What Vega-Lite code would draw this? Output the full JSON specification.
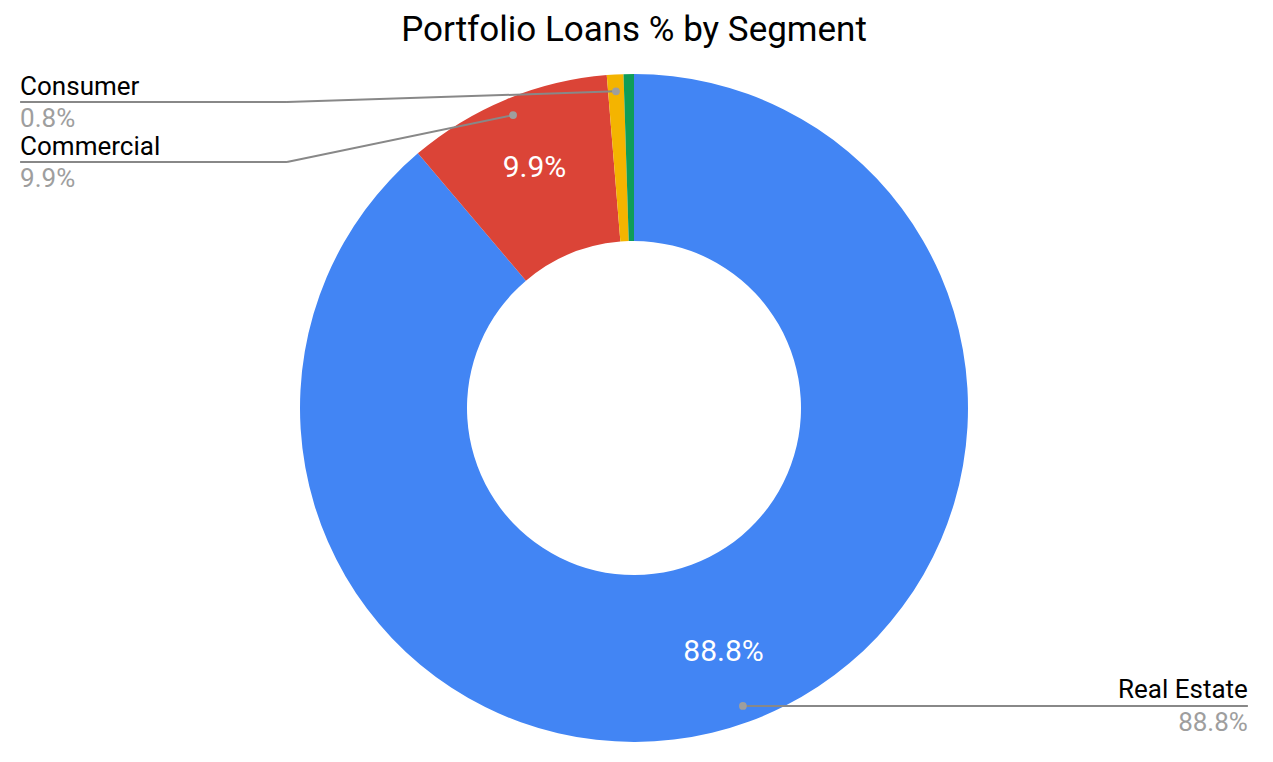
{
  "$schema": "https://vega.github.io/schema/vega-lite/v6.json",
  "width": 1268,
  "height": 708,
  "autosize": {"type": "none"},
  "padding": {"left": 0, "top": 54, "right": 5, "bottom": 0},
  "background": "white",
  "title": {"text": "Portfolio Loans % by Segment", "fontSize": 35, "font": "Roboto", "fontWeight": "normal", "color": "#000000", "anchor": "middle", "offset": 6},
  "config": {"view": {"stroke": null}, "font": "Roboto"},
  "datasets": {
    "slices": [
      {"segment": "Real Estate", "value": 0.888, "idx": 1},
      {"segment": "Commercial", "value": 0.099, "idx": 2},
      {"segment": "Consumer", "value": 0.008, "idx": 3},
      {"segment": "Other", "value": 0.005, "idx": 4}
    ],
    "callouts": [
      {"segment": "Real Estate", "side": "right", "dotX": 0.326, "dotY": -0.892, "elbowX": 0.326, "lineY": -0.892, "endX": 1.838},
      {"segment": "Consumer", "side": "left", "dotX": -0.054, "dotY": 0.948, "elbowX": -1.039, "lineY": 0.916, "endX": -1.838},
      {"segment": "Commercial", "side": "left", "dotX": -0.362, "dotY": 0.877, "elbowX": -1.039, "lineY": 0.7365, "endX": -1.838}
    ]
  },
  "layer": [
    {
      "data": {"name": "slices"},
      "mark": {"type": "arc", "innerRadius": 167, "outerRadius": 334},
      "encoding": {
        "theta": {"field": "value", "type": "quantitative", "stack": true},
        "color": {"field": "segment", "type": "nominal", "scale": {"domain": ["Real Estate", "Commercial", "Consumer", "Other"], "range": ["#4285F4", "#DB4437", "#F4B400", "#0F9D58"]}, "legend": null},
        "order": {"field": "idx", "type": "quantitative"}
      }
    },
    {
      "data": {"name": "slices"},
      "mark": {"type": "text", "radius": 260, "fontSize": 30, "fontWeight": "normal", "color": "white", "baseline": "middle", "align": "center"},
      "encoding": {
        "theta": {"field": "value", "type": "quantitative", "stack": true},
        "detail": {"field": "segment", "type": "nominal"},
        "order": {"field": "idx", "type": "quantitative"},
        "text": {"field": "value", "type": "quantitative", "format": ".1%"},
        "opacity": {"condition": {"test": "datum.value > 0.05", "value": 1}, "value": 0}
      }
    },
    {
      "data": {"name": "callouts"},
      "mark": {"type": "rule", "color": "#888888", "strokeWidth": 2},
      "encoding": {
        "x": {"field": "dotX", "type": "quantitative", "scale": {"domain": [-1.8982, 1.8982], "nice": false, "zero": false}, "axis": null},
        "y": {"field": "dotY", "type": "quantitative", "scale": {"domain": [-1.0599, 1.0599], "nice": false, "zero": false}, "axis": null},
        "x2": {"field": "elbowX"},
        "y2": {"field": "lineY"}
      }
    },
    {
      "data": {"name": "callouts"},
      "mark": {"type": "rule", "color": "#888888", "strokeWidth": 2},
      "encoding": {
        "x": {"field": "elbowX", "type": "quantitative", "scale": {"domain": [-1.8982, 1.8982], "nice": false, "zero": false}, "axis": null},
        "y": {"field": "lineY", "type": "quantitative", "scale": {"domain": [-1.0599, 1.0599], "nice": false, "zero": false}, "axis": null},
        "x2": {"field": "endX"}
      }
    },
    {
      "data": {"name": "callouts"},
      "mark": {"type": "point", "filled": true, "color": "#9e9e9e", "opacity": 1, "size": 60},
      "encoding": {
        "x": {"field": "dotX", "type": "quantitative", "scale": {"domain": [-1.8982, 1.8982], "nice": false, "zero": false}, "axis": null},
        "y": {"field": "dotY", "type": "quantitative", "scale": {"domain": [-1.0599, 1.0599], "nice": false, "zero": false}, "axis": null}
      }
    },
    {
      "data": {"name": "callouts"},
      "transform": [{"filter": "datum.side === 'left'"}],
      "mark": {"type": "text", "align": "left", "baseline": "alphabetic", "dy": -7, "fontSize": 26, "color": "#000000"},
      "encoding": {
        "x": {"field": "endX", "type": "quantitative", "scale": {"domain": [-1.8982, 1.8982], "nice": false, "zero": false}, "axis": null},
        "y": {"field": "lineY", "type": "quantitative", "scale": {"domain": [-1.0599, 1.0599], "nice": false, "zero": false}, "axis": null},
        "text": {"field": "segment", "type": "nominal"}
      }
    },
    {
      "data": {"name": "callouts"},
      "transform": [
        {"filter": "datum.side === 'left'"},
        {"lookup": "segment", "from": {"data": {"name": "slices"}, "key": "segment", "fields": ["value"]}}
      ],
      "mark": {"type": "text", "align": "left", "baseline": "alphabetic", "dy": 25, "fontSize": 26, "color": "#9e9e9e"},
      "encoding": {
        "x": {"field": "endX", "type": "quantitative", "scale": {"domain": [-1.8982, 1.8982], "nice": false, "zero": false}, "axis": null},
        "y": {"field": "lineY", "type": "quantitative", "scale": {"domain": [-1.0599, 1.0599], "nice": false, "zero": false}, "axis": null},
        "text": {"field": "value", "type": "quantitative", "format": ".1%"}
      }
    },
    {
      "data": {"name": "callouts"},
      "transform": [{"filter": "datum.side === 'right'"}],
      "mark": {"type": "text", "align": "right", "baseline": "alphabetic", "dy": -8, "fontSize": 26, "color": "#000000"},
      "encoding": {
        "x": {"field": "endX", "type": "quantitative", "scale": {"domain": [-1.8982, 1.8982], "nice": false, "zero": false}, "axis": null},
        "y": {"field": "lineY", "type": "quantitative", "scale": {"domain": [-1.0599, 1.0599], "nice": false, "zero": false}, "axis": null},
        "text": {"field": "segment", "type": "nominal"}
      }
    },
    {
      "data": {"name": "callouts"},
      "transform": [
        {"filter": "datum.side === 'right'"},
        {"lookup": "segment", "from": {"data": {"name": "slices"}, "key": "segment", "fields": ["value"]}}
      ],
      "mark": {"type": "text", "align": "right", "baseline": "alphabetic", "dy": 25, "fontSize": 26, "color": "#9e9e9e"},
      "encoding": {
        "x": {"field": "endX", "type": "quantitative", "scale": {"domain": [-1.8982, 1.8982], "nice": false, "zero": false}, "axis": null},
        "y": {"field": "lineY", "type": "quantitative", "scale": {"domain": [-1.0599, 1.0599], "nice": false, "zero": false}, "axis": null},
        "text": {"field": "value", "type": "quantitative", "format": ".1%"}
      }
    }
  ]
}
